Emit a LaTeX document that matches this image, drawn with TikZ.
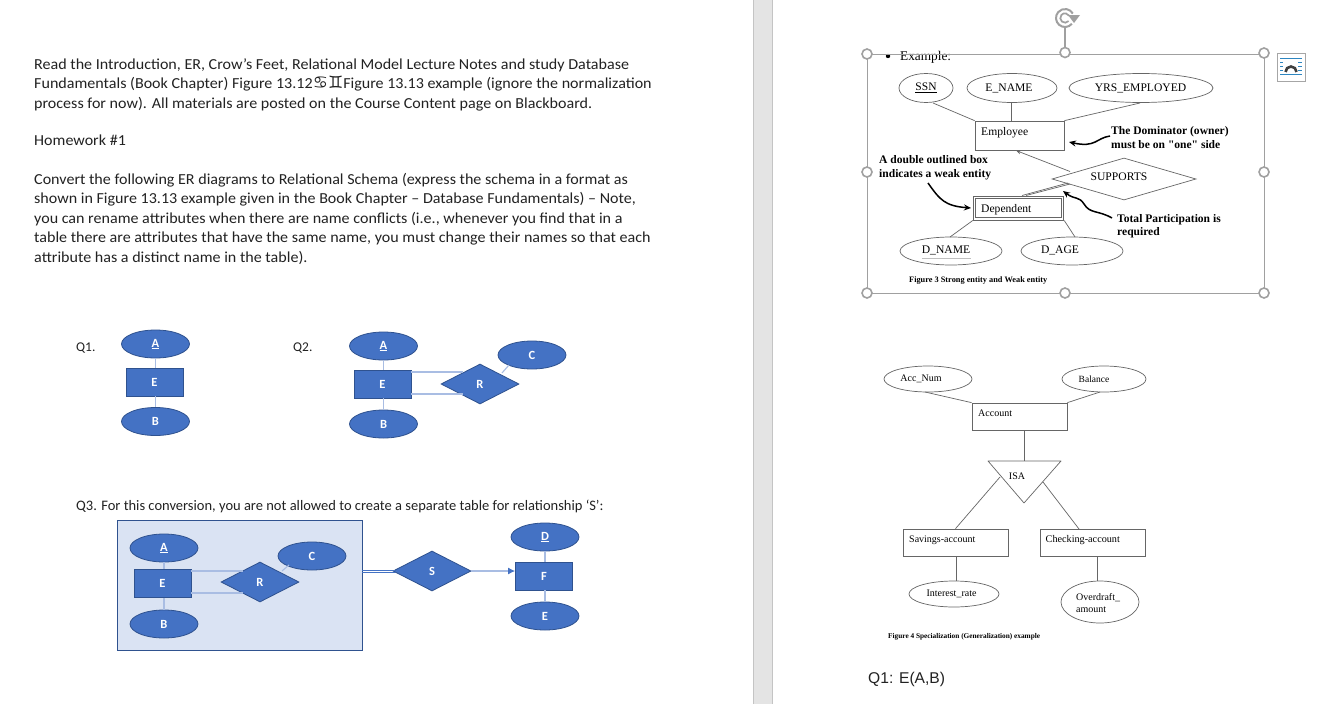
\documentclass[tikz,border=0pt]{standalone}
\usepackage{fontspec}
\usetikzlibrary{shapes.geometric,arrows.meta,calc}
\setmainfont[Ligatures=TeXOff]{Liberation Serif}
\newfontfamily\calfont{Carlito}
\newfontfamily\calwide[FakeStretch=1.05]{Carlito}
\newfontfamily\djvfont{DejaVu Sans}
\newfontfamily\arifont{Liberation Sans}
\definecolor{eblue}{HTML}{4472C4}
\definecolor{eedge}{HTML}{2F528F}
\definecolor{elink}{HTML}{A9BDE3}
\definecolor{epale}{HTML}{DAE3F3}
\definecolor{handle}{HTML}{A0A0A0}
\definecolor{band}{HTML}{E4E4E4}
\definecolor{bandedge}{HTML}{C4C4C4}
\definecolor{inktx}{HTML}{222222}
\definecolor{iconblue}{HTML}{2E86C1}
\newcommand{\lowr}[1]{\raisebox{-1.3pt}{#1}}
\tikzset{
  x=1pt,y=-1pt,
  bodytxt/.style={anchor=base west,inner sep=0pt,text=inktx,font=\calwide\fontsize{15.3}{16}\selectfont},
  qtxt/.style={anchor=base west,inner sep=0pt,text=inktx,font=\calfont\fontsize{13.4}{16}\selectfont},
  bell/.style={ellipse,draw=eedge,fill=eblue,line width=.8pt,minimum width=68pt,minimum height=28pt,inner sep=0pt,text=white,font=\calfont\bfseries\fontsize{12.5}{14}\selectfont},
  bbox/.style={rectangle,draw=eedge,fill=eblue,line width=.8pt,minimum width=57pt,minimum height=28pt,inner sep=0pt,text=white,font=\calfont\bfseries\fontsize{12.5}{14}\selectfont},
  bdia/.style={diamond,aspect=1.95,draw=eedge,fill=eblue,line width=.8pt,minimum width=78pt,minimum height=40pt,inner sep=0pt,text=white,font=\calfont\bfseries\fontsize{12.5}{14}\selectfont},
  blink/.style={draw=elink,line width=1.1pt},
  wlab/.style={inner sep=0pt,text=black,font=\fontsize{10}{12}\selectfont},
  wbig/.style={inner sep=0pt,text=black,font=\fontsize{11.6}{13}\selectfont},
  wbold/.style={anchor=base west,inner sep=0pt,text=black,font=\bfseries\fontsize{11.55}{13}\selectfont},
  well/.style={ellipse,draw=black!60,line width=.7pt,inner sep=0pt},
  wbox/.style={rectangle,draw=black!60,line width=.7pt,inner sep=0pt},
  wline/.style={draw=black!60,line width=.7pt},
  squig/.style={draw=black,line width=1.5pt,-{Stealth[length=7pt,width=6pt]}},
  grip/.style={circle,draw=handle,fill=white,line width=1.6pt,minimum size=10pt,inner sep=0pt},
}
\begin{document}
\begin{tikzpicture}
\useasboundingbox (0,0) rectangle (1333,704);
\fill[white] (0,0) rectangle (1333,704);
\fill[band] (753,0) rectangle (772,704);
\draw[draw=bandedge,line width=1pt] (753,0) -- (753,704) (772,0) -- (772,704);

% left text
\node[bodytxt] (l1) at (34,69) {Read the Introduction, ER, Crow’s Feet, Relational Model Lecture Notes and study Database};
\node[bodytxt] (l2) at (34,88) {Fundamentals (Book Chapter) Figure 13.12{\djvfont\fontsize{17}{14}\selectfont ♋♊}Figure 13.13 example (ignore the normalization};
\node[bodytxt] (l3) at (34,108) {process for now). All materials are posted on the Course Content page on Blackboard.};
\node[bodytxt] (l4) at (34,145) {Homework \#1};
\node[bodytxt] (l5) at (34,184) {Convert the following ER diagrams to Relational Schema (express the schema in a format as};
\node[bodytxt] (l6) at (34,203) {shown in Figure 13.13 example given in the Book Chapter – Database Fundamentals) – Note,};
\node[bodytxt] (l7) at (34,223) {you can rename attributes when there are name conflicts (i.e., whenever you find that in a};
\node[bodytxt] (l8) at (34,242) {table there are attributes that have the same name, you must change their names so that each};
\node[bodytxt] (l9) at (34,262) {attribute has a distinct name in the table).};

% Q1
\node[qtxt] (q1) at (76,351) {Q1.};
\node[bell] (a1) at (155.5,344) {\lowr{\underline{A}}};
\node[bbox] (e1) at (154.5,382) {\lowr{E}};
\node[bell] (b1) at (155.5,421.5) {\lowr{B}};
\draw[blink] (a1.south) -- (e1.north -| a1.south);
\draw[blink] (e1.south -| b1.north) -- (b1.north);

% Q2
\node[qtxt] (q2) at (293,351) {Q2.};
\node[bell] (a2) at (383.5,346) {\lowr{\underline{A}}};
\node[bbox] (e2) at (382.5,384) {\lowr{E}};
\node[bell] (b2) at (383.5,424) {\lowr{B}};
\node[bell] (c2) at (532,355) {\lowr{C}};
\node[bdia] (r2) at (480,384) {\lowr{R}};
\coordinate (r2u) at (463,372);
\coordinate (r2d) at (463,394);
\coordinate (e2u) at (411,372);
\coordinate (e2d) at (411,394);
\coordinate (r2c) at (502,373);
\coordinate (c2r) at (509,365);
\draw[blink] (a2.south) -- (e2.north -| a2.south);
\draw[blink] (e2.south -| b2.north) -- (b2.north);
\draw[blink] (e2u) -- (r2u);
\draw[blink] (e2d) -- (r2d);
\draw[blink] (r2c) -- (c2r);

% Q3
\node[qtxt,font=\calfont\fontsize{14.5}{16}\selectfont] (q3) at (76,510) {Q3. For this conversion, you are not allowed to create a separate table for relationship ‘S’:};
\node[rectangle,draw=eedge,fill=epale,line width=.9pt,minimum width=245pt,minimum height=130pt,inner sep=0pt] (grp) at (239.5,585) {};
\node[bell] (a3) at (164,548) {\lowr{\underline{A}}};
\node[bbox] (e3) at (162.5,583.5) {\lowr{E}};
\node[bell] (b3) at (164,624) {\lowr{B}};
\node[bell] (c3) at (312,556) {\lowr{C}};
\node[bdia] (r3) at (260,582) {\lowr{R}};
\node[bdia] (s3) at (432,571) {\lowr{S}};
\node[bbox] (f3) at (544,576) {\lowr{F}};
\node[bell] (d3) at (545,537) {\lowr{\underline{D}}};
\node[bell] (e4) at (545,616) {\lowr{E}};
\coordinate (r3u) at (243,571);
\coordinate (r3d) at (243,593);
\coordinate (e3u) at (191,571);
\coordinate (e3d) at (191,593);
\coordinate (r3c) at (282,571);
\coordinate (c3r) at (289,565);
\draw[blink] (a3.south) -- (e3.north -| a3.south);
\draw[blink] (e3.south -| b3.north) -- (b3.north);
\draw[blink] (e3u) -- (r3u);
\draw[blink] (e3d) -- (r3d);
\draw[blink] (r3c) -- (c3r);
\draw[blink] (f3.north -| d3.south) -- (d3.south);
\draw[blink] (f3.south -| e4.north) -- (e4.north);
\coordinate (gu) at (362,570);
\coordinate (gd) at (362,572.5);
\coordinate (su) at (395,570);
\coordinate (sd) at (395,572.5);
\draw[eblue,line width=.8pt] (gu) -- (su);
\draw[eblue,line width=.8pt] (gd) -- (sd);
\draw[blink,-{Latex[length=7pt,width=7pt,color=eblue]}] (s3.east) -- (f3.west |- s3.east);

% first figure, white
\node[wbig,anchor=base west,font=\fontsize{13.3}{14}\selectfont] (ex) at (900,60) {Example:};
\fill[black] (888,56) circle (2.2);
\node[well,minimum width=54pt,minimum height=29pt,font=\fontsize{11.5}{13}\selectfont] (ssn) at (926,88) {\underline{SSN}};
\node[well,minimum width=90pt,minimum height=29pt] (ename) at (1012,88) {};
\node[wbig] (enamet) at (1009,88) {E\_NAME};
\node[well,minimum width=144pt,minimum height=29pt] (yrs) at (1141,88) {};
\node[wbig] (yrst) at (1140.5,88) {YRS\_EMPLOYED};
\node[wbox,minimum width=89pt,minimum height=29pt] (emp) at (1019.5,135.5) {};
\node[wbig,anchor=base west] (empt) at (981,135) {Employee};
\coordinate (ssnb) at (933,103);
\coordinate (enb) at (1011,102.5);
\coordinate (yrb) at (1140,103);
\coordinate (empt2) at (1011,121);
\draw[wline] (ssnb) -- (emp.north west);
\draw[wline] (enb) -- (empt2);
\draw[wline] (yrb) -- (emp.north east);
\node[wbold] (dom1) at (1111,134) {The Dominator (owner)};
\node[wbold] (dom2) at (1111,148) {must be on "one" side};
\coordinate (sq1a) at (1110,136);
\coordinate (sq1b) at (1069,142);
\draw[squig] (sq1a) .. controls (1096,138) and (1096,148) .. (sq1b);

\node[well,diamond,aspect=3.5,minimum width=144pt,minimum height=42pt] (sup) at (1124,179) {};
\node[wbig] (supt) at (1119,177) {SUPPORTS};
\coordinate (supa) at (1070,171.5);
\coordinate (empb) at (1016,150.5);
\draw[wline,-{Stealth[length=5pt,width=4pt]}] (supa) -- (empb);
\node[wbox,minimum width=90.5pt,minimum height=24pt,line width=1pt] (dep) at (1018.5,208) {};
\node[wbox,minimum width=85.5pt,minimum height=19pt,line width=1pt] (depi) at (1018.5,208) {};
\node[wbig,anchor=base west] (dept) at (981,212) {Dependent};
\coordinate (d1a) at (1026,195.5);
\coordinate (d1b) at (1070,184);
\coordinate (d2a) at (1022,195.5);
\coordinate (d2b) at (1068,183);
\draw[wline] (d1a) -- (d1b);
\draw[wline] (d2a) -- (d2b);
\node[wbold] (dbl1) at (879,163) {A double outlined box};
\node[wbold] (dbl2) at (879,177) {indicates a weak entity};
\coordinate (sq2a) at (928,183);
\coordinate (sq2b) at (971,208);
\draw[squig] (sq2a) .. controls (940,200) and (945,206) .. (sq2b);
\node[wbold] (tot1) at (1117,222) {Total Participation is};
\node[wbold] (tot2) at (1117,235) {required};
\coordinate (sq3a) at (1112,218);
\coordinate (sq3m) at (1084,204);
\coordinate (sq3b) at (1063,191);
\draw[squig] (sq3a) .. controls (1098,210) and (1090,214) .. (sq3m) .. controls (1079,196) and (1075,200) .. (sq3b);

\node[well,minimum width=102pt,minimum height=28pt] (dname) at (951,251) {};
\node[wbig] (dnamet) at (946,250) {D\_NAME};
\node[well,minimum width=102pt,minimum height=28pt] (dage) at (1072,251) {};
\node[wbig] (daget) at (1060,250) {D\_AGE};
\coordinate (dnt) at (950,237);
\coordinate (dat) at (1075,237);
\draw[wline] (dep.south west) -- (dnt);
\draw[wline] (dep.south east) -- (dat);
\coordinate (ul1) at (922,258);
\coordinate (ul2) at (971,258);
\draw[black!25,line width=.8pt] (ul1) -- (ul2);
\node[wbold,font=\bfseries\fontsize{8.3}{9}\selectfont] (fig3) at (909,282) {Figure 3 Strong entity and Weak entity};

% selection frame
\coordinate (fnw) at (867,54);
\coordinate (fse) at (1264,293);
\draw[handle,line width=1pt] (fnw) rectangle (fse);
\node[grip] (g1) at (867,54) {};
\node[grip] (g2) at (1065,52.5) {};
\node[grip] (g3) at (1264,53) {};
\node[grip] (g4) at (867,172) {};
\node[grip] (g5) at (1264,172) {};
\node[grip] (g6) at (867,293) {};
\node[grip] (g7) at (1065,293) {};
\node[grip] (g8) at (1264,293) {};
% rotation handle
\coordinate (rotb) at (1065,28);
\draw[handle,line width=1.1pt] (rotb) -- (g2.north);
\draw[handle,line width=2pt] (1065,18) ++(40:9) arc[start angle=40,end angle=330,radius=9];
\draw[handle,line width=1.7pt] (1065,18) ++(40:4.7) arc[start angle=40,end angle=330,radius=4.7];
\fill[handle] (1068,15) -- (1080,15) -- (1074,23) -- cycle;
% layout icon
\node[rectangle,draw=black!35,fill=white,line width=1pt,minimum width=28pt,minimum height=28pt,inner sep=0pt] (ico) at (1291,67.5) {};
\foreach \yy in {58,74}{\draw[iconblue,line width=.9pt] (1280,\yy) -- (1302,\yy);}
\foreach \yy in {62,66,70}{
  \draw[iconblue,line width=.9pt] (1280,\yy) -- (1283,\yy);
  \draw[iconblue,line width=.9pt] (1298,\yy) -- (1302,\yy);}
\draw[black!75,line width=2.6pt] (1285.5,72) arc[start angle=180,end angle=360,radius=5.5];

% second figure
\node[well,minimum width=88pt,minimum height=26pt] (acc) at (928,379) {};
\node[wlab] (acct1) at (921,379) {Acc\_Num};
\node[well,minimum width=84pt,minimum height=26pt] (bal) at (1104,379) {};
\node[wlab,font=\fontsize{9.5}{12}\selectfont] (balt) at (1094,379) {Balance};
\node[wbox,minimum width=95pt,minimum height=27pt] (acct) at (1019.5,416.5) {};
\node[wlab,anchor=base west] (acctt) at (978,416) {Account};
\coordinate (accb) at (925,392);
\coordinate (balb) at (1100,392);
\draw[wline] (accb) -- (acct.north west);
\draw[wline] (balb) -- (acct.north east);
\coordinate (t1) at (988,461);
\coordinate (t2) at (1061,461);
\coordinate (t3) at (1024,503);
\coordinate (tt) at (1024.5,461);
\draw[wline,line join=round] (t1) -- (t2) -- (t3) -- cycle;
\node[wlab] (isat) at (1017,476) {ISA};
\draw[wline] (acct.south -| tt) -- (tt);
\node[wbox,minimum width=105pt,minimum height=27pt] (sav) at (955.5,542.5) {};
\node[wbox,minimum width=105pt,minimum height=27pt] (chk) at (1092.5,542.5) {};
\node[wlab,anchor=base west] (savt) at (909,542) {Savings-account};
\node[wlab,anchor=base west,font=\fontsize{10.2}{12}\selectfont] (chkt) at (1045.5,542) {Checking-account};
\coordinate (isal) at (1000,477);
\coordinate (isar) at (1043,482);
\coordinate (chkn) at (1079,529);
\draw[wline] (isal) -- (sav.north);
\draw[wline] (isar) -- (chkn);
\node[well,minimum width=90pt,minimum height=26pt] (int) at (954,594) {};
\node[wlab] (intt) at (951.5,594) {Interest\_rate};
\node[well,minimum width=78pt,minimum height=42pt] (ovr) at (1100,602) {};
\node[wlab,anchor=base west] (ovr1) at (1076,600) {Overdraft\_};
\node[wlab,anchor=base west] (ovr2) at (1076,612) {amount};
\coordinate (savl) at (956,556);
\coordinate (intl) at (956,581);
\coordinate (chkl) at (1097,556);
\coordinate (ovrl) at (1097,581);
\draw[wline] (savl) -- (intl);
\draw[wline] (chkl) -- (ovrl);
\node[wbold,font=\bfseries\fontsize{7.3}{8}\selectfont] (fig4) at (888,638) {Figure 4 Specialization (Generalization) example};
\node[anchor=base west,inner sep=0pt,text=inktx,font=\arifont\fontsize{15.6}{20}\selectfont] (ans) at (868,683) {Q1: E(A,B)};
\end{tikzpicture}
\end{document}
